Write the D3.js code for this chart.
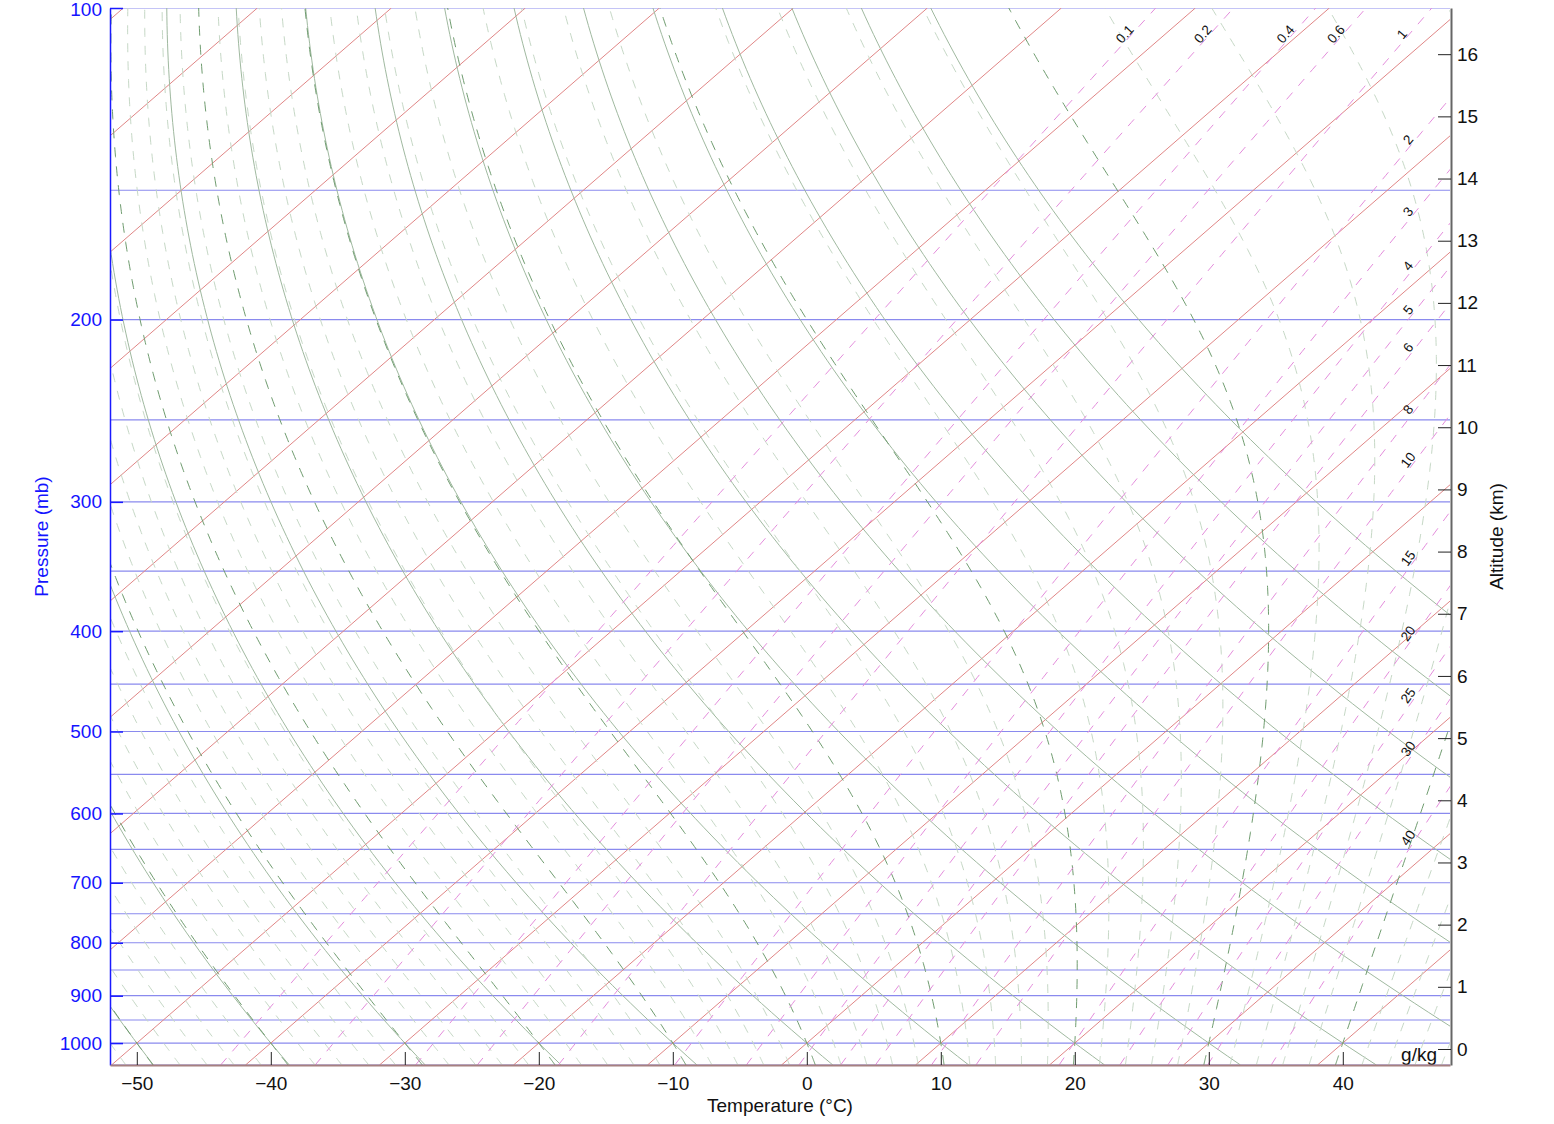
<!DOCTYPE html>
<html>
<head>
<meta charset="utf-8">
<script src="https://cdn.jsdelivr.net/npm/d3@7"></script>
<style>
  body { margin: 0; background: #fff; }
  text { font-family: "Liberation Sans", Arial, Helvetica, sans-serif; }
</style>
</head>
<body>
<script>
let width = 1554;
let height = 1124;

// values
const pressureTicks = [100, 200, 300, 400, 500, 600, 700, 800, 900, 1000];
const isobars = [100, 150, 200, 250, 300, 350, 400, 450, 500, 550, 600,
                 650, 700, 750, 800, 850, 900, 950, 1000, 1050];
const temperatureTicks = [-50, -40, -30, -20, -10, 0, 10, 20, 30, 40];
const isotherms = [-140, -130, -120, -110, -100, -90, -80, -70, -60, -50,
                   -40, -30, -20, -10, 0, 10, 20, 30, 40];
const dryAdiabats = [-50, -40, -30, -20, -10, 0, 10, 20, 30, 40, 50, 60, 70, 80, 90, 100];
const moistAdiabats = [-52, -50, -48, -46, -44, -42, -40, -38, -36, -34, -32, -30,
                       -28, -26, -24, -22, -20, -18, -16, -14, -12, -10, -8, -6, -4, -2,
                       0, 2, 4, 6, 8, 10, 12, 14, 16, 18, 20, 22, 24, 26, 28, 30,
                       32, 34, 36, 38, 40, 42, 44, 46, 48];
const moistMajor = [-50, -40, -30, -20, -10, 0, 10, 20, 30, 40];
const mixingRatios = [0.1, 0.2, 0.4, 0.6, 1, 2, 3, 4, 5, 6, 8, 10, 15, 20, 25, 30, 40];
const altitudeTicks = [0, 1, 2, 3, 4, 5, 6, 7, 8, 9, 10, 11, 12, 13, 14, 15, 16];

let plotLeft = 110, plotRight = 1450, plotTop = 8, plotBottom = 1065;
let skew = 38.65;        // degC per ln(p) of isotherm lean
let scaleHeight = 7.23;  // km, for the altitude axis
let p0 = 1013.25;

let svg = d3.select("body")
            .append("svg")
            .attr("width", width)
            .attr("height", height);

let x = d3.scaleLinear().domain([-52, 48]).range([plotLeft, plotRight]);
let y = d3.scaleLog().domain([1050, 100]).range([plotBottom, plotTop]);
let z = d3.scaleLinear()
          .domain([scaleHeight * Math.log(p0 / 1050), scaleHeight * Math.log(p0 / 100)])
          .range([plotBottom, plotTop]);

function skewX(t, p) {
    return x(t + skew * Math.log(1000 / p));
}

// thermodynamics
const Rd = 287.04, cp = 1005.7, Lv = 2.5e6, Rv = 461.5, eps = 0.622;
const Llapse = 2.46e6;

function satVapor(tK) {
    return 6.11 * Math.exp(Lv / Rv * (1 / 273.15 - 1 / tK));
}

function dewFromMixing(w, p) {
    let e = w * p / (622 + w);
    return 1 / (1 / 273.15 - Math.log(e / 6.11) * Rv / Lv) - 273.15;
}

function moistLapse(tK, p) {
    let e = satVapor(tK);
    let rs = eps * e / (p - e);
    return (Rd * tK + Llapse * rs) / (cp + Llapse * Llapse * rs * eps / (Rd * tK * tK));
}

function integrate(t0, pEnd, n) {
    let out = [];
    let tK = t0 + 273.15;
    let lp = Math.log(1000);
    let h = (Math.log(pEnd) - lp) / n;
    for (let i = 0; i < n; i++) {
        let k1 = moistLapse(tK, Math.exp(lp));
        let k2 = moistLapse(tK + h / 2 * k1, Math.exp(lp + h / 2));
        let k3 = moistLapse(tK + h / 2 * k2, Math.exp(lp + h / 2));
        let k4 = moistLapse(tK + h * k3, Math.exp(lp + h));
        tK += h / 6 * (k1 + 2 * k2 + 2 * k3 + k4);
        lp += h;
        out.push({p: Math.exp(lp), t: tK - 273.15});
    }
    return out;
}

function moistPath(t0) {
    let up = integrate(t0, 100, 300);
    let down = integrate(t0, 1050, 20);
    return down.reverse().concat([{p: 1000, t: t0}], up);
}

let pGrid = d3.range(0, 121).map(i => 1050 * Math.pow(100 / 1050, i / 120));

let line = d3.line()
    .x(d => skewX(d.t, d.p))
    .y(d => y(d.p));

svg.append("clipPath")
    .attr("id", "plot")
    .append("rect")
    .attr("x", plotLeft)
    .attr("y", plotTop)
    .attr("width", plotRight - plotLeft)
    .attr("height", plotBottom - plotTop);

let plot = svg.append("g").attr("clip-path", "url(#plot)");

// isobars
plot.selectAll(".isobar")
    .data(isobars)
    .enter()
    .append("line")
    .attr("x1", plotLeft)
    .attr("x2", plotRight)
    .attr("y1", d => y(d))
    .attr("y2", d => y(d))
    .style("stroke", "#8a8aee")
    .style("stroke-width", 1.2);

// isotherms
plot.selectAll(".isotherm")
    .data(isotherms)
    .enter()
    .append("path")
    .attr("d", t => line([{t: t, p: 1050}, {t: t, p: 100}]))
    .style("fill", "none")
    .style("stroke", "#e08686")
    .style("stroke-width", 1);

// dry adiabats
plot.selectAll(".dry")
    .data(dryAdiabats)
    .enter()
    .append("path")
    .attr("d", th => line(pGrid.map(p => ({
        p: p,
        t: (th + 273.15) * Math.pow(p / 1000, Rd / cp) - 273.15
    }))))
    .style("fill", "none")
    .style("stroke", "#a0b9a0")
    .style("stroke-width", 1);

// moist adiabats, light ones first
let minor = moistAdiabats.filter(t => moistMajor.indexOf(t) < 0);
plot.selectAll(".moistMinor")
    .data(minor)
    .enter()
    .append("path")
    .attr("d", t => line(moistPath(t)))
    .style("fill", "none")
    .style("stroke", "#c6d8c6")
    .style("stroke-width", 1)
    .style("stroke-dasharray", "9,9");

plot.selectAll(".moistMajor")
    .data(moistMajor)
    .enter()
    .append("path")
    .attr("d", t => line(moistPath(t)))
    .style("fill", "none")
    .style("stroke", "#6f9c6f")
    .style("stroke-width", 1)
    .style("stroke-dasharray", "10,9");

// mixing ratio lines
plot.selectAll(".mixing")
    .data(mixingRatios)
    .enter()
    .append("path")
    .attr("d", w => line(pGrid.map(p => ({p: p, t: dewFromMixing(w, p)}))))
    .style("fill", "none")
    .style("stroke", "#e48ddc")
    .style("stroke-width", 1)
    .style("stroke-dasharray", "9,9");

// mixing ratio labels
function mixingX(w, p) {
    return skewX(dewFromMixing(w, p), p);
}

function labelSpot(w) {
    let target = 1419;
    let lo = Math.log(100), hi = Math.log(1050);
    let p;
    if (mixingX(w, 100) < target) {
        p = null;
    } else {
        for (let i = 0; i < 50; i++) {
            let mid = (lo + hi) / 2;
            if (mixingX(w, Math.exp(mid)) > target) lo = mid; else hi = mid;
        }
        p = Math.exp((lo + hi) / 2);
    }
    if (p === null || y(p) < 30) {
        p = y.invert(30);
    }
    let p2 = p * 0.97;
    let dx = mixingX(w, p2) - mixingX(w, p);
    let dy = y(p2) - y(p);
    return {
        x: mixingX(w, p) - 11,
        y: y(p) + 4,
        angle: Math.atan2(dy, dx) * 180 / Math.PI
    };
}

svg.selectAll(".mixLabel")
    .data(mixingRatios)
    .enter()
    .append("text")
    .each(function(w) {
        let s = labelSpot(w);
        d3.select(this)
            .attr("transform", `translate(${s.x},${s.y}) rotate(${s.angle})`);
    })
    .attr("text-anchor", "middle")
    .attr("dy", "0.35em")
    .style("font-size", "13.5px")
    .style("fill", "#111")
    .text(w => w);

svg.append("text")
    .attr("x", 1437)
    .attr("y", 1061)
    .attr("text-anchor", "end")
    .style("font-size", "19px")
    .style("fill", "#111")
    .text("g/kg");

// axes
let leftAxis = svg.append("g")
    .attr("transform", `translate(${plotLeft},0)`)
    .call(d3.axisLeft(y)
        .tickValues(pressureTicks)
        .tickFormat(d3.format("d"))
        .tickSizeInner(-13)
        .tickSizeOuter(0)
        .tickPadding(8));
leftAxis.select(".domain").style("stroke", "#1a1aff").style("stroke-width", 1.5);
leftAxis.selectAll(".tick line").style("stroke", "#1a1aff").style("stroke-width", 1.5);
leftAxis.selectAll(".tick text")
    .style("font-size", "19px")
    .style("fill", "#1414ff")
    .style("font-family", "'Liberation Sans', Arial, sans-serif")
    .attr("dy", d => d === 100 ? "0.42em" : "0.32em");

let bottomAxis = svg.append("g")
    .attr("transform", `translate(0,${plotBottom})`)
    .call(d3.axisBottom(x)
        .tickValues(temperatureTicks)
        .tickSizeInner(-13)
        .tickSizeOuter(0)
        .tickPadding(12));
bottomAxis.select(".domain").style("stroke", "#a68080").style("stroke-width", 2);
bottomAxis.selectAll(".tick line").style("stroke", "#222");
bottomAxis.selectAll(".tick text")
    .style("font-size", "19px")
    .style("fill", "#111")
    .style("font-family", "'Liberation Sans', Arial, sans-serif");

let rightAxis = svg.append("g")
    .attr("transform", `translate(${plotRight + 1},0)`)
    .call(d3.axisRight(z)
        .tickValues(altitudeTicks)
        .tickSizeInner(-13)
        .tickSizeOuter(0)
        .tickPadding(6));
rightAxis.select(".domain").style("stroke", "#666").style("stroke-width", 2);
rightAxis.selectAll(".tick line").style("stroke", "#222");
rightAxis.selectAll(".tick text")
    .style("font-size", "19px")
    .style("fill", "#111")
    .style("font-family", "'Liberation Sans', Arial, sans-serif");

// titles
svg.append("text")
    .attr("transform", `translate(41,${(plotTop + plotBottom) / 2}) rotate(-90)`)
    .attr("text-anchor", "middle")
    .attr("dy", "0.35em")
    .style("font-size", "19px")
    .style("fill", "#1414ff")
    .text("Pressure (mb)");

svg.append("text")
    .attr("transform", `translate(1496,${(plotTop + plotBottom) / 2}) rotate(-90)`)
    .attr("text-anchor", "middle")
    .attr("dy", "0.35em")
    .style("font-size", "19px")
    .style("fill", "#111")
    .text("Altitude (km)");

svg.append("text")
    .attr("x", (plotLeft + plotRight) / 2)
    .attr("y", 1112)
    .attr("text-anchor", "middle")
    .style("font-size", "19px")
    .style("fill", "#111")
    .text("Temperature (\u00B0C)");
</script>
</body>
</html>
